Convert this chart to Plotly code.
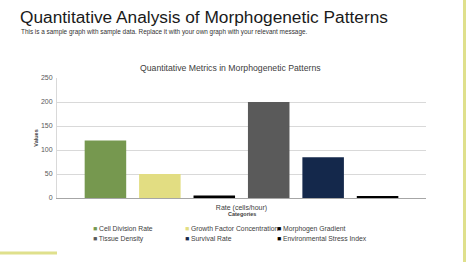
import plotly.graph_objects as go

categories = ["Rate (cells/hour)"]
series_names = ["Cell Division Rate", "Growth Factor Concentration", "Morphogen Gradient",
                "Tissue Density", "Survival Rate", "Environmental Stress Index"]
series_values = [120, 50, 5, 200, 85, 3]
series_colors = ["#76984f", "#e2dd82", "#000000", "#5a5a5a", "#14284b", "#000000"]
y_ticks = [0, 50, 100, 150, 200, 250]

FONT = "Liberation Sans"
W, H = 474, 266
L, R, T, B = 57, 426, 78, 198

def px_x(x):
    return (x - L) / (R - L)

def px_y(y):
    return (B - y) / (B - T)

# legend grid: 3 columns x 2 rows, one small legend per entry
leg_cols = [53, 145, 237]
leg_rows = [228, 238]

fig = go.Figure()
layout_legends = {}
for i, (name, val, col) in enumerate(zip(series_names, series_values, series_colors)):
    fig.add_trace(go.Bar(x=categories, y=[val], name=name, marker_color=col,
                         marker_line_width=0, showlegend=False))
for i, (name, col) in enumerate(zip(series_names, series_colors)):
    lg = "legend" if i == 0 else f"legend{i + 1}"
    fig.add_trace(go.Scatter(x=categories, y=[None], mode="markers",
                             name=f'<span style="color:{col}">■</span> {name}',
                             marker=dict(size=1, color="rgba(0,0,0,0)"),
                             showlegend=True, legend=lg, hoverinfo="skip"))
    layout_legends[lg] = dict(
        orientation="h",
        xref="container", yref="container", xanchor="left", yanchor="middle",
        x=leg_cols[i % 3] / W, y=1 - leg_rows[i // 3] / H, itemwidth=30,
        font=dict(family=FONT, size=6.8, color="#404040"),
        bgcolor="rgba(0,0,0,0)", borderwidth=0)

fig.update_layout(
    width=W, height=H,
    margin=dict(l=L, r=W - R, t=T, b=H - B, pad=0),
    paper_bgcolor="white", plot_bgcolor="white",
    barmode="group", bargap=0.115, bargroupgap=0.237,
    font=dict(family=FONT, color="#595959", size=7),
    showlegend=True,
    xaxis=dict(type="category", showgrid=False, showline=True, linecolor="#a6a6a6",
               linewidth=1, ticks="", automargin=False, ticklabelstandoff=3,
               tickfont=dict(size=7, color="#404040")),
    yaxis=dict(range=[0, 250], tickvals=y_ticks, showgrid=True, gridcolor="#d9d9d9",
               gridwidth=1, showline=True, linecolor="#d9d9d9", zeroline=False,
               ticks="", ticklabelstandoff=2, automargin=False,
               tickfont=dict(size=7, color="#595959"),
               title=dict(text="<b>Values</b>", font=dict(size=5.5, color="#404040"), standoff=1)),
    **layout_legends,
)

# x-axis title ("Categories") placed under the tick label
fig.add_annotation(text="<b>Categories</b>", xref="paper", yref="paper",
                   x=0.5, y=px_y(214), xanchor="center", yanchor="middle", showarrow=False,
                   font=dict(family=FONT, size=5.5, color="#404040"))
fig.add_annotation(text="Quantitative Analysis of Morphogenetic Patterns", xref="paper", yref="paper",
                   x=px_x(18), y=px_y(16.5), xanchor="left", yanchor="middle", showarrow=False,
                   font=dict(family=FONT, size=17.3, color="#1a1a1a"))
fig.add_annotation(text="This is a sample graph with sample data. Replace it with your own graph with your relevant message.",
                   xref="paper", yref="paper", x=px_x(19), y=px_y(31.5), xanchor="left", yanchor="middle",
                   showarrow=False, font=dict(family=FONT, size=6.4, color="#333333"))
fig.add_annotation(text="Quantitative Metrics in Morphogenetic Patterns", xref="paper", yref="paper",
                   x=px_x(230), y=px_y(68), xanchor="center", yanchor="middle", showarrow=False,
                   font=dict(family=FONT, size=8.7, color="#404040"))

fig.add_shape(type="line", xref="paper", yref="paper", x0=px_x(464.5), x1=px_x(464.5),
              y0=px_y(0), y1=px_y(262), line=dict(color="#dfe08c", width=3))
fig.add_shape(type="line", xref="paper", yref="paper", x0=px_x(0), x1=px_x(57),
              y0=px_y(253), y1=px_y(253), line=dict(color="#dfe08c", width=3))

fig.write_html("out.html")
